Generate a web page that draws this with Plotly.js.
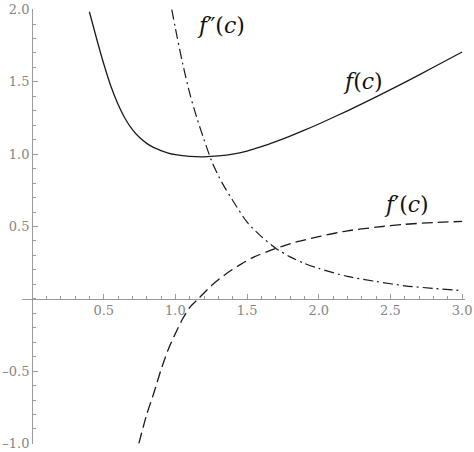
<!DOCTYPE html>
<html>
<head>
<meta charset="utf-8">
<script src="https://cdn.plot.ly/plotly-3.0.1.min.js"></script>
<style>
  html, body { margin: 0; padding: 0; background: #fff; }
  #chart { width: 474px; height: 452px; }
</style>
</head>
<body>
<div id="chart"></div>
<script>
// values
const fC = [0.40, 0.45, 0.50, 0.55, 0.60, 0.65, 0.70, 0.75, 0.80, 0.85, 0.90, 0.95, 1.00, 1.10, 1.20, 1.30, 1.40, 1.50, 1.60, 1.70, 1.80, 1.90, 2.00, 2.20, 2.40, 2.60, 2.80, 3.00];
const fVal = [1.985, 1.80, 1.625, 1.47, 1.345, 1.245, 1.17, 1.115, 1.075, 1.045, 1.025, 1.008, 0.997, 0.985, 0.982, 0.988, 1.0, 1.022, 1.052, 1.087, 1.125, 1.166, 1.209, 1.30, 1.396, 1.497, 1.601, 1.707];

const dfC = [0.745, 0.80, 0.85, 0.90, 0.95, 1.00, 1.05, 1.10, 1.16, 1.25, 1.35, 1.45, 1.55, 1.65, 1.75, 1.85, 2.00, 2.20, 2.40, 2.60, 2.80, 3.00];
const dfVal = [-1.0, -0.80, -0.65, -0.49, -0.35, -0.24, -0.14, -0.06, 0.0, 0.09, 0.17, 0.235, 0.29, 0.33, 0.365, 0.395, 0.43, 0.47, 0.495, 0.515, 0.527, 0.535];

const ddfC = [0.975, 1.00, 1.05, 1.10, 1.15, 1.20, 1.25, 1.30, 1.35, 1.40, 1.50, 1.60, 1.70, 1.80, 1.90, 2.00, 2.20, 2.40, 2.60, 2.80, 3.00];
const ddfVal = [2.0, 1.87, 1.63, 1.42, 1.25, 1.10, 0.96, 0.85, 0.76, 0.68, 0.53, 0.43, 0.35, 0.29, 0.245, 0.21, 0.155, 0.12, 0.09, 0.072, 0.057];

const xTicks = [0.5, 1.0, 1.5, 2.0, 2.5, 3.0];
const xTickText = ["0.5", "1.0", "1.5", "2.0", "2.5", "3.0"];
const yTicks = [-1.0, -0.5, 0.5, 1.0, 1.5, 2.0];
const yTickText = ["\u20131.0", "\u20130.5", "0.5", "1.0", "1.5", "2.0"];

const labels = [
    {text: "<i>f</i>\u2033(<i>c</i>)", x: 1.32, y: 1.89},
    {text: "<i>f</i>(<i>c</i>)", x: 2.31, y: 1.50},
    {text: "<i>f</i>\u2032(<i>c</i>)", x: 2.61, y: 0.65}
];

const xRange = [-0.07, 3.02];
const yRange = [-1.004, 2.004];

const serif = "\"DejaVu Serif\", serif";
const lineColor = "#1a1a1a";
const axisColor = "#9a9a9a";
const tickFont = {family: serif, size: 13, color: "#858585"};

const traces = [
    {x: fC, y: fVal, type: "scatter", mode: "lines", line: {color: lineColor, width: 1.3, shape: "spline", smoothing: 0.8}, hoverinfo: "skip"},
    {x: dfC, y: dfVal, type: "scatter", mode: "lines", line: {color: lineColor, width: 1.3, dash: "11px,5px", shape: "spline", smoothing: 0.8}, hoverinfo: "skip"},
    {x: ddfC, y: ddfVal, type: "scatter", mode: "lines", line: {color: lineColor, width: 1.2, dash: "10px,4px,2px,4px", shape: "spline", smoothing: 0.8}, hoverinfo: "skip"}
];

const layout = {
    width: 474,
    height: 452,
    margin: {l: 21.5, r: 9, t: 8.5, b: 7.5},
    paper_bgcolor: "#fff",
    plot_bgcolor: "#fff",
    showlegend: false,
    font: {family: serif},
    xaxis: {
        range: xRange,
        anchor: "free",
        position: (0 - yRange[0]) / (yRange[1] - yRange[0]),
        showgrid: false,
        zeroline: false,
        showline: true,
        linecolor: axisColor,
        linewidth: 1,
        tickmode: "array",
        tickvals: xTicks,
        ticktext: xTickText,
        ticks: "inside",
        ticklen: 5,
        tickcolor: axisColor,
        tickfont: tickFont,
        ticklabeloverflow: "allow",
        minor: {dtick: 0.1, ticks: "inside", ticklen: 3, tickcolor: axisColor}
    },
    yaxis: {
        range: yRange,
        anchor: "free",
        position: (0 - xRange[0]) / (xRange[1] - xRange[0]),
        showgrid: false,
        zeroline: false,
        showline: true,
        linecolor: axisColor,
        linewidth: 1,
        tickmode: "array",
        tickvals: yTicks,
        ticktext: yTickText,
        ticks: "inside",
        ticklen: 5,
        tickcolor: axisColor,
        tickfont: tickFont,
        ticklabeloverflow: "allow",
        minor: {dtick: 0.1, ticks: "inside", ticklen: 3, tickcolor: axisColor}
    },
    annotations: labels.map(l => ({
        x: l.x, y: l.y, xref: "x", yref: "y",
        text: l.text, showarrow: false,
        font: {family: serif, size: 22, color: "#111"}
    }))
};

Plotly.newPlot("chart", traces, layout, {staticPlot: true, displayModeBar: false});
</script>
</body>
</html>
